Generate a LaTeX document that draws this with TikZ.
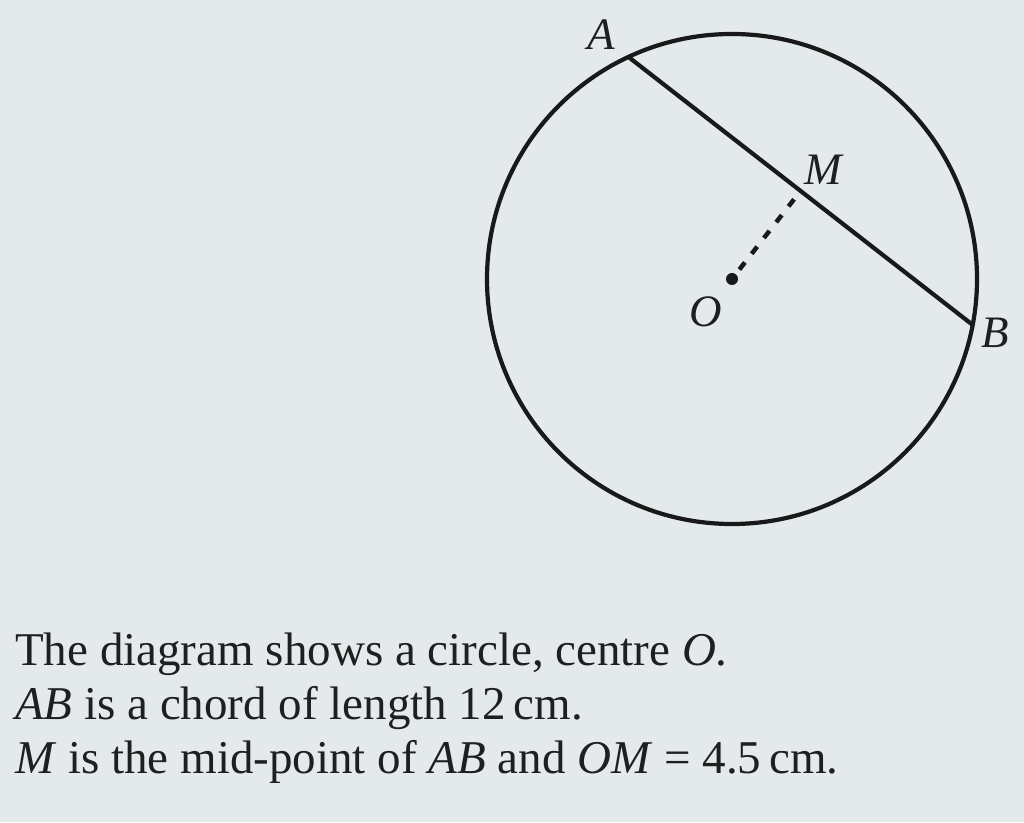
\documentclass[tikz,border=0pt]{standalone}
\usepackage{fontspec}
\setmainfont{Liberation Serif}
\usetikzlibrary{calc}
\begin{document}
\begin{tikzpicture}[x=1pt,y=1pt,
  lbl/.style={font=\fontsize{45}{45}\selectfont\itshape, inner sep=0pt, text=black!88},
  txt/.style={font=\fontsize{47}{55}\selectfont, inner sep=0pt, anchor=base west, text=black!88},
  curve/.style={line width=4.2pt, draw=black!90},
  dots/.style={line width=4.5pt, dash pattern=on 9pt off 11pt, draw=black!90}]
\fill[fill={rgb,255:red,228;green,233;blue,236}] (0,0) rectangle (1024,822);
\useasboundingbox (0,0) rectangle (1024,822);
\coordinate (O) at (732,543);
\draw[curve] (O) circle[radius=245];
\coordinate (A) at ($(O)+(115:245)$);
\coordinate (B) at ($(O)+(-10.8:245)$);
\coordinate (M) at ($(A)!0.5!(B)$);
\draw[curve] (A) -- (B);
\draw[dots] ($(O)!12pt!(M)$) -- (M);
\fill[black!90] (O) circle[radius=6];
\node[lbl] (lA) at (601,787) {A};
\node[lbl] (lM) at (823,652) {M};
\node[lbl] (lO) at (706,510) {O};
\node[lbl] (lB) at (995,489) {B};
\node[txt] (t1) at (15,157) {The diagram shows a circle, centre \textit{O}.};
\node[txt] (t2) at (15,103) {\textit{AB} is a chord of length 12\,cm.};
\node[txt] (t3) at (15,49) {\textit{M} is the mid-point of \textit{AB} and \textit{OM} = 4.5\,cm.};
\end{tikzpicture}
\end{document}
